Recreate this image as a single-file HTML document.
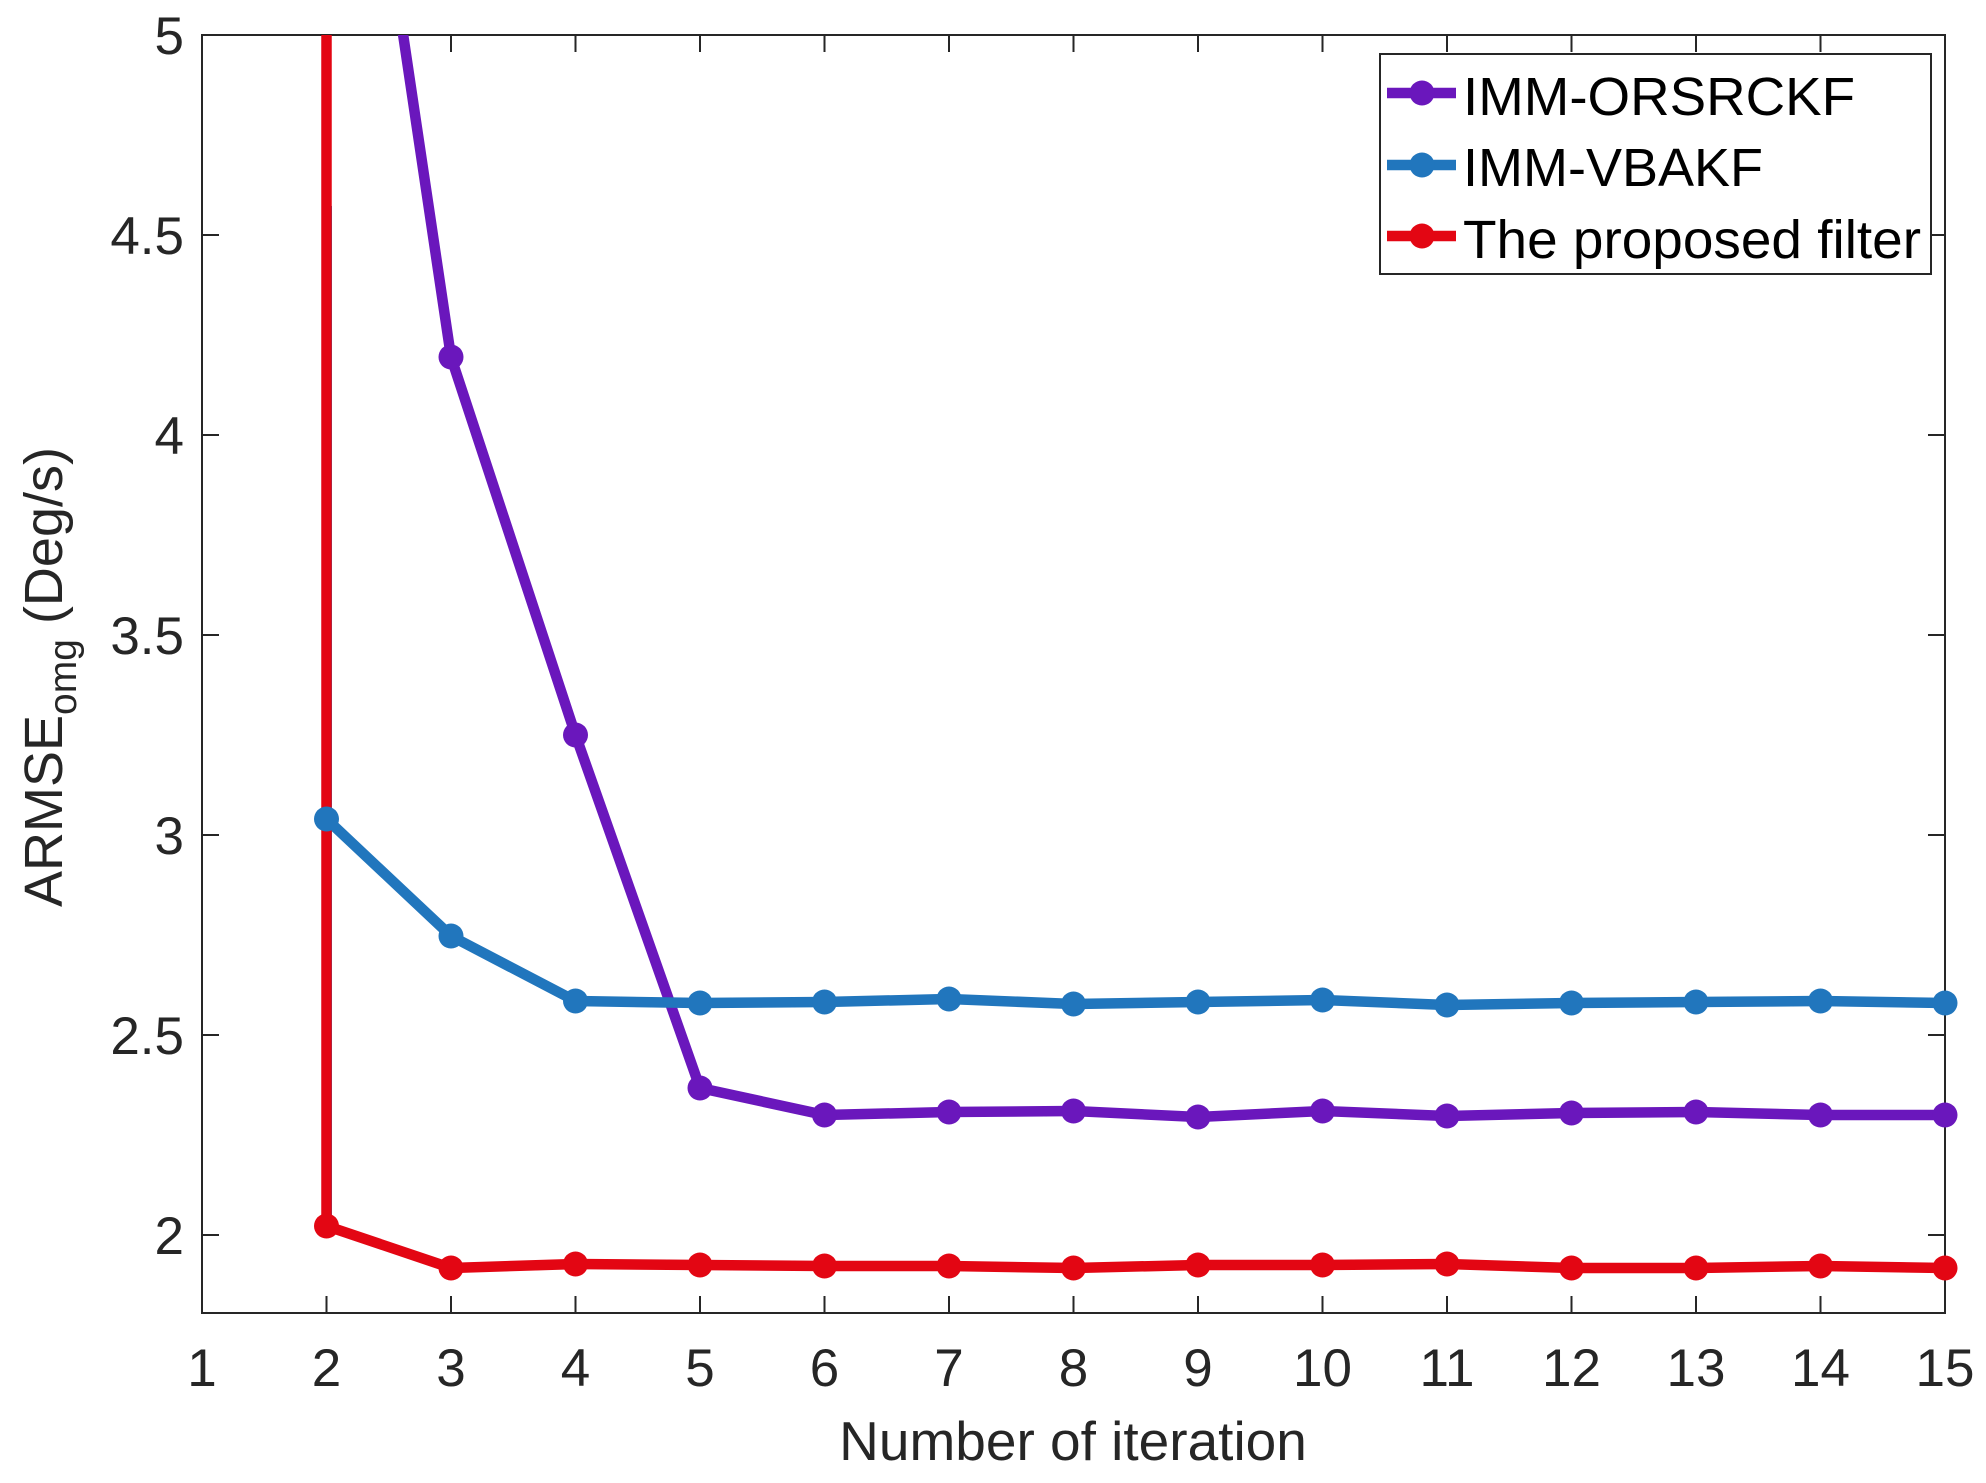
<!DOCTYPE html>
<html><head><meta charset="utf-8"><style>
html,body{margin:0;padding:0;background:#fff;}
svg{display:block;}
text{font-family:"Liberation Sans",Arial,sans-serif;}
</style></head><body>
<svg width="1986" height="1483" viewBox="0 0 1986 1483" xmlns="http://www.w3.org/2000/svg">
<defs><clipPath id="c"><rect x="202" y="35" width="1743" height="1278"/></clipPath></defs>
<rect x="0" y="0" width="1986" height="1483" fill="#fff"/>
<g stroke="#262626" stroke-width="2" fill="none">
<rect x="202" y="35" width="1743" height="1278"/>
<path d="M326.5,1313v-17M451,1313v-17M575.5,1313v-17M700,1313v-17M824.5,1313v-17M949,1313v-17M1073.5,1313v-17M1198,1313v-17M1322.5,1313v-17M1447,1313v-17M1571.5,1313v-17M1696,1313v-17M1820.5,1313v-17
M326.5,35v17M451,35v17M575.5,35v17M700,35v17M824.5,35v17M949,35v17M1073.5,35v17M1198,35v17M1322.5,35v17M1447,35v17M1571.5,35v17M1696,35v17M1820.5,35v17
M202,235h17M202,435h17M202,635h17M202,835h17M202,1035h17M202,1235h17
M1945,235h-17M1945,435h-17M1945,635h-17M1945,835h-17M1945,1035h-17M1945,1235h-17"/>
</g>
<g clip-path="url(#c)" fill="none" stroke-width="10.5" stroke-linejoin="round">
<line x1="331" y1="206" x2="331" y2="1226" stroke="#2176bd" stroke-width="2"/>
<polyline stroke="#6a17bc" points="326.5,-481 451,357 575.5,735 700,1088 824.5,1115 949,1112 1073.5,1111 1198,1117 1322.5,1111 1447,1116 1571.5,1113 1696,1112 1820.5,1115 1945,1115"/>
<polyline stroke="#2176bd" points="326.5,819 451,936 575.5,1001 700,1003 824.5,1002 949,999 1073.5,1004 1198,1002 1322.5,1000 1447,1005 1571.5,1003 1696,1002 1820.5,1001 1945,1003"/>
<polyline stroke="#e30613" points="326.5,-200 326.5,1226 451,1268 575.5,1264 700,1265 824.5,1266 949,1266 1073.5,1268 1198,1265 1322.5,1265 1447,1264 1571.5,1268 1696,1268 1820.5,1266 1945,1268"/>
</g>
<g fill="#6a17bc">
<circle cx="451" cy="357" r="12.5"/><circle cx="575.5" cy="735" r="12.5"/><circle cx="700" cy="1088" r="12.5"/><circle cx="824.5" cy="1115" r="12.5"/><circle cx="949" cy="1112" r="12.5"/><circle cx="1073.5" cy="1111" r="12.5"/><circle cx="1198" cy="1117" r="12.5"/><circle cx="1322.5" cy="1111" r="12.5"/><circle cx="1447" cy="1116" r="12.5"/><circle cx="1571.5" cy="1113" r="12.5"/><circle cx="1696" cy="1112" r="12.5"/><circle cx="1820.5" cy="1115" r="12.5"/><circle cx="1945" cy="1115" r="12.5"/>
</g>
<g fill="#2176bd">
<circle cx="326.5" cy="819" r="12.5"/><circle cx="451" cy="936" r="12.5"/><circle cx="575.5" cy="1001" r="12.5"/><circle cx="700" cy="1003" r="12.5"/><circle cx="824.5" cy="1002" r="12.5"/><circle cx="949" cy="999" r="12.5"/><circle cx="1073.5" cy="1004" r="12.5"/><circle cx="1198" cy="1002" r="12.5"/><circle cx="1322.5" cy="1000" r="12.5"/><circle cx="1447" cy="1005" r="12.5"/><circle cx="1571.5" cy="1003" r="12.5"/><circle cx="1696" cy="1002" r="12.5"/><circle cx="1820.5" cy="1001" r="12.5"/><circle cx="1945" cy="1003" r="12.5"/>
</g>
<g fill="#e30613">
<circle cx="326.5" cy="1226" r="12.5"/><circle cx="451" cy="1268" r="12.5"/><circle cx="575.5" cy="1264" r="12.5"/><circle cx="700" cy="1265" r="12.5"/><circle cx="824.5" cy="1266" r="12.5"/><circle cx="949" cy="1266" r="12.5"/><circle cx="1073.5" cy="1268" r="12.5"/><circle cx="1198" cy="1265" r="12.5"/><circle cx="1322.5" cy="1265" r="12.5"/><circle cx="1447" cy="1264" r="12.5"/><circle cx="1571.5" cy="1268" r="12.5"/><circle cx="1696" cy="1268" r="12.5"/><circle cx="1820.5" cy="1266" r="12.5"/><circle cx="1945" cy="1268" r="12.5"/>
</g>
<g fill="#262626" font-size="53" text-anchor="end">
<text x="184" y="54">5</text><text x="184" y="254">4.5</text><text x="184" y="454">4</text><text x="184" y="654">3.5</text><text x="184" y="854">3</text><text x="184" y="1054">2.5</text><text x="184" y="1254">2</text>
</g>
<g fill="#262626" font-size="53" text-anchor="middle">
<text x="202" y="1386">1</text><text x="326.5" y="1386">2</text><text x="451" y="1386">3</text><text x="575.5" y="1386">4</text><text x="700" y="1386">5</text><text x="824.5" y="1386">6</text><text x="949" y="1386">7</text><text x="1073.5" y="1386">8</text><text x="1198" y="1386">9</text><text x="1322.5" y="1386">10</text><text x="1447" y="1386">11</text><text x="1571.5" y="1386">12</text><text x="1696" y="1386">13</text><text x="1820.5" y="1386">14</text><text x="1945" y="1386">15</text>
<text x="1073" y="1460" font-size="55">Number of iteration</text>
</g>
<text transform="translate(62,677) rotate(-90)" text-anchor="middle" fill="#262626" font-size="54">ARMSE<tspan font-size="39" dy="14">omg</tspan><tspan dy="-14"> (Deg/s)</tspan></text>
<rect x="1380" y="54" width="551" height="220" fill="#fff" stroke="#262626" stroke-width="2"/>
<g stroke-width="10.5">
<line x1="1387" y1="93" x2="1456" y2="93" stroke="#6a17bc"/>
<line x1="1387" y1="165" x2="1456" y2="165" stroke="#2176bd"/>
<line x1="1387" y1="236" x2="1456" y2="236" stroke="#e30613"/>
</g>
<circle cx="1422" cy="93" r="12.5" fill="#6a17bc"/>
<circle cx="1422" cy="165" r="12.5" fill="#2176bd"/>
<circle cx="1422" cy="236" r="12.5" fill="#e30613"/>
<g fill="#000" font-size="54">
<text x="1463" y="115" textLength="392" lengthAdjust="spacingAndGlyphs">IMM-ORSRCKF</text>
<text x="1463" y="186">IMM-VBAKF</text>
<text x="1463" y="258" textLength="458" lengthAdjust="spacingAndGlyphs">The proposed filter</text>
</g>
</svg>
</body></html>
